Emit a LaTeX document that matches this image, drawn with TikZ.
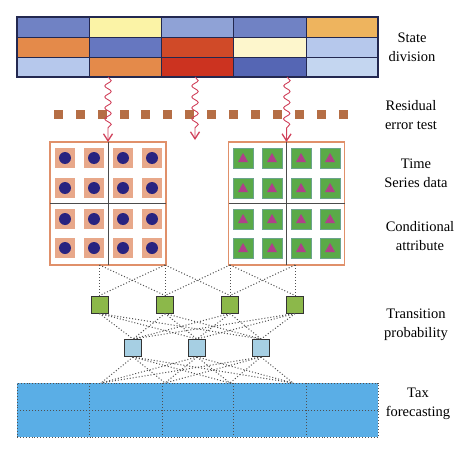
\documentclass[tikz,border=0pt]{standalone}
\usepackage{fontspec}
\setmainfont{Liberation Serif}
\usetikzlibrary{decorations.pathmorphing,arrows.meta}
\definecolor{cA}{RGB}{112,130,196}
\definecolor{cB}{RGB}{251,243,166}
\definecolor{cC}{RGB}{143,162,214}
\definecolor{cD}{RGB}{238,180,94}
\definecolor{cE}{RGB}{228,138,74}
\definecolor{cF}{RGB}{102,119,192}
\definecolor{cG}{RGB}{208,74,40}
\definecolor{cH}{RGB}{253,246,204}
\definecolor{cI}{RGB}{182,200,236}
\definecolor{cJ}{RGB}{204,51,32}
\definecolor{cK}{RGB}{85,102,180}
\definecolor{cL}{RGB}{196,214,240}
\definecolor{gridline}{RGB}{35,40,80}
\definecolor{snakecol}{RGB}{208,64,90}
\definecolor{brownsq}{RGB}{181,110,69}
\definecolor{boxline}{RGB}{224,144,106}
\definecolor{salmon}{RGB}{232,168,138}
\definecolor{navy}{RGB}{40,35,128}
\definecolor{grn}{RGB}{90,170,72}
\definecolor{magen}{RGB}{176,64,138}
\definecolor{olive}{RGB}{140,184,74}
\definecolor{ltblue}{RGB}{166,207,227}
\definecolor{taxblue}{RGB}{90,174,230}
\definecolor{dotcol}{RGB}{80,80,80}
\begin{document}
\begin{tikzpicture}[x=1pt,y=-1pt,
  lbl/.style={align=center,font=\fontsize{14.5}{19}\selectfont},
  snk/.style={draw=snakecol,line width=0.9pt,decorate,
    decoration={snake,amplitude=3.2pt,segment length=11pt,post length=9pt},
    -{Straight Barb[length=7pt,width=9pt,line width=1.3pt]}},
  obox/.style={draw=boxline,line width=1.2pt,minimum width=116pt,minimum height=123pt,inner sep=0pt,outer sep=0pt},
  cross/.style={draw=black!70,line width=1pt},
  sal/.style={fill=salmon,minimum size=20pt,inner sep=0pt},
  grs/.style={fill=grn,draw=cyan!20!grn,line width=0.5pt,minimum size=20pt,inner sep=0pt},
  tsq/.style={draw=black!80,line width=1pt,fill=olive,minimum size=17pt,inner sep=0pt},
  bsq/.style={draw=black!80,line width=1pt,fill=ltblue,minimum size=17pt,inner sep=0pt},
  dl/.style={draw=dotcol,dotted,line width=1pt},
  tax/.style={fill=taxblue,draw=dotcol,dotted,line width=0.9pt,minimum width=361pt,minimum height=54pt,inner sep=0pt,outer sep=0pt}]
\useasboundingbox (0,0) rectangle (474,455);
% ---- state division grid
\def\xs{{17,89,161,233,306,378}}
\def\ys{{17,37,57,77}}
\foreach \r/\row in {0/{cA,cB,cC,cA,cD},1/{cE,cF,cG,cH,cI},2/{cI,cE,cJ,cK,cL}}{
  \foreach \c [count=\i from 0] in \row {
    \pgfmathsetmacro{\xa}{\xs[\i]}\pgfmathsetmacro{\xb}{\xs[\i+1]}
    \pgfmathsetmacro{\ya}{\ys[\r]}\pgfmathsetmacro{\yb}{\ys[\r+1]}
    \fill[\c] (\xa,\ya) rectangle (\xb,\yb);
  }
}
\draw[gridline,line width=1.1pt] (17,17) rectangle (378,77);
\foreach \x in {89,161,233,306} \draw[gridline,line width=0.9pt] (\x,17) -- (\x,77);
\foreach \y in {37,57} \draw[gridline,line width=0.9pt] (17,\y) -- (378,\y);
\node[draw=none,inner sep=0pt,minimum width=361pt,minimum height=60pt] (SD) at (197.5,47) {};
% ---- residual squares
\foreach \k in {0,...,13}
  \fill[brownsq] ({58.3+21.9*\k-4.5},109.5) rectangle ++(9,9);
% ---- boxes
\node[obox] (L) at (108,203.5) {};
\node[obox] (R) at (286.5,203.5) {};
\foreach \cx in {65,94,123,152}
  \foreach \cy in {158,188,219,248}{
    \node[sal] at (\cx,\cy) {};
    \fill[navy] (\cx,\cy) circle (6);
  }
\foreach \cx in {243,272,301,330}
  \foreach \cy in {158,188,219,248}{
    \node[grs] at (\cx,\cy) {};
    \fill[magen] (\cx-5,\cy+4) -- (\cx+5,\cy+4) -- (\cx,\cy-5) -- cycle;
  }
\draw[cross] (L.north) -- (L.south);
\draw[cross] (L.west) -- (L.east);
\draw[cross] (R.north) -- (R.south);
\draw[cross] (R.west) -- (R.east);
% ---- snake arrows
\coordinate (s1) at (108,77);
\coordinate (s2) at (195,77);
\coordinate (s3) at (287,77);
\coordinate (e2) at (195,140);
\draw[snk] (s1) -- (L.north);
\draw[snk] (s2) -- (e2);
\draw[snk] (s3) -- (R.north);
% ---- transition squares
\node[tsq] (g1) at (99.5,304.5) {};
\node[tsq] (g2) at (165,304.5) {};
\node[tsq] (g3) at (230,304.5) {};
\node[tsq] (g4) at (295,304.5) {};
\node[bsq] (b1) at (133,348) {};
\node[bsq] (b2) at (197,348) {};
\node[bsq] (b3) at (261,348) {};
\node[tax] (T) at (197.5,410) {};
\foreach \x in {89,162,233,306} \draw[dl] (\x,383) -- (\x,437);
\draw[dl] (17,410) -- (378,410);
\coordinate (p1) at (99.5,265);
\coordinate (p2) at (165,265);
\coordinate (p3) at (230,265);
\coordinate (p4) at (295,265);
\coordinate (q1) at (101,383);
\coordinate (q2) at (165,383);
\coordinate (q3) at (230,383);
\coordinate (q4) at (293,383);
\draw[dl] (p1) -- (g1.north); \draw[dl] (p1) -- (g2.north);
\draw[dl] (p2) -- (g1.north); \draw[dl] (p2) -- (g2.north); \draw[dl] (p2) -- (g3.north);
\draw[dl] (p3) -- (g2.north); \draw[dl] (p3) -- (g3.north); \draw[dl] (p3) -- (g4.north);
\draw[dl] (p4) -- (g3.north); \draw[dl] (p4) -- (g4.north);
\foreach \g in {g1,g2,g3,g4}
  \foreach \b in {b1,b2,b3}
    \draw[dl] (\g.south) -- (\b.north);
\foreach \b in {b1,b2,b3}
  \foreach \q in {q1,q2,q3,q4}
    \draw[dl] (\b.south) -- (\q);
% ---- labels
\node[lbl] (t1) at (412,47) {State\\division};
\node[lbl] (t2) at (411,115) {Residual\\error test};
\node[lbl] (t3) at (416,173) {Time\\Series data};
\node[lbl] (t4) at (420,236) {Conditional\\attribute};
\node[lbl] (t5) at (416,325) {Transition\\probability};
\node[lbl] (t6) at (418,404) {Tax\\forecasting};
\end{tikzpicture}
\end{document}
